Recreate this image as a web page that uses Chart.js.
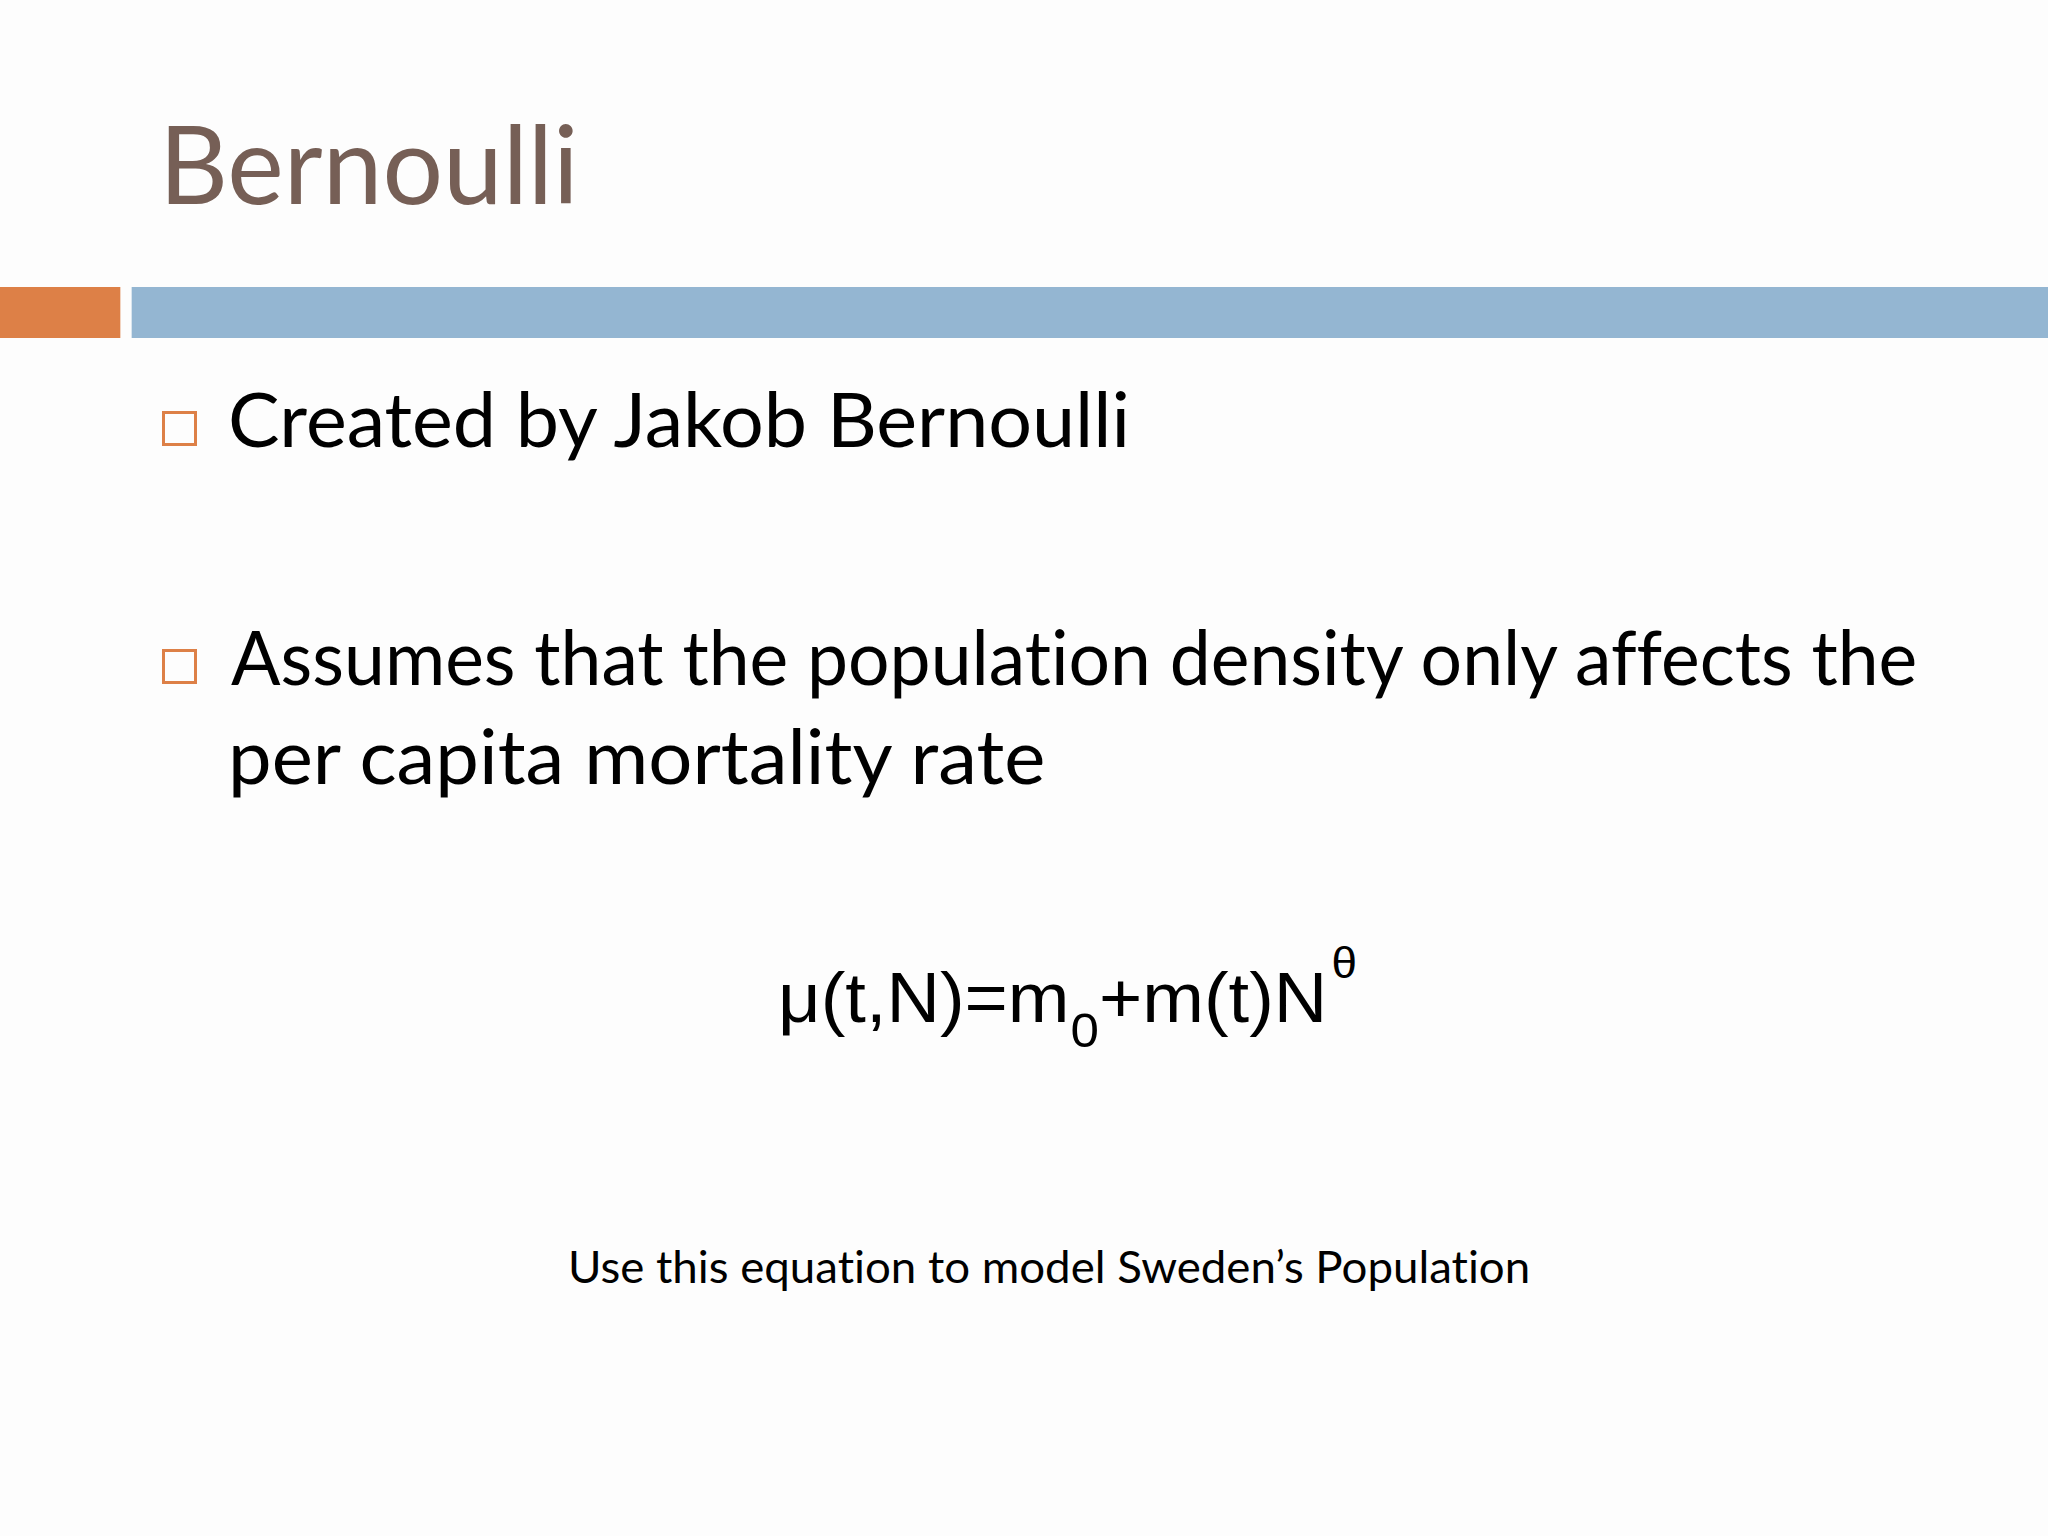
<!DOCTYPE html>
<html>
<head>
<meta charset="utf-8">
<script src="https://cdn.jsdelivr.net/npm/chart.js@4.4.1/dist/chart.umd.min.js"></script>
<style>
  html, body { margin: 0; padding: 0; background: #fdfdfd; }
  #slide { position: relative; width: 2048px; height: 1536px; overflow: hidden; background: #fdfdfd; }
  .txt { position: absolute; white-space: nowrap; line-height: 1; transform-origin: left top; }
  .bl { display: inline-block; width: 0; height: 0; vertical-align: baseline; }
  .box { position: absolute; width: 35px; height: 35px; box-sizing: border-box; border: 3px solid #dd8047; }
  #band { position: absolute; left: 0; top: 287px; }
  .eq { font-family: "Liberation Sans", Arial, sans-serif; color: #000; }
</style>
</head>
<body>
<div id="slide">
  <canvas id="band" width="2048" height="51"></canvas>
  <div class="box" style="left:162px;top:411px"></div>
  <div class="box" style="left:162px;top:649px"></div>
  <div id="texts"></div>
</div>
<script>
// slide text, one entry per line
const titleText = 'Bernoulli';
const bulletLines = [
  'Created by Jakob Bernoulli',
  'Assumes that the population density only affects the',
  'per capita mortality rate'
];
const noteText = 'Use this equation to model Sweden\u2019s Population';

// equation pieces: [text, role]
const eqParts = [['\u03bc(t,N)=m', 'base'], ['0', 'sub'], ['+m(t)N', 'base'], ['\u03b8', 'sup']];

// header band: accent block and rule, in slide px along the x axis
const bandNames = ['accent', 'rule'];
const bandSpans = [[0, 120], [132, 2048]];
const bandColors = ['#dd8047', '#94b6d2'];

new Chart(document.getElementById('band'), {
  type: 'bar',
  data: {
    labels: ['band'],
    datasets: bandNames.map((n, i) => ({
      label: n,
      data: [bandSpans[i]],
      backgroundColor: bandColors[i],
      borderWidth: 0,
      borderSkipped: false,
      grouped: false,
      barPercentage: 1,
      categoryPercentage: 1
    }))
  },
  options: {
    indexAxis: 'y',
    responsive: false,
    animation: false,
    devicePixelRatio: 1,
    layout: { padding: 0 },
    plugins: { legend: { display: false }, tooltip: { enabled: false } },
    scales: {
      x: { display: false, min: 0, max: 2048 },
      y: { display: false }
    }
  }
});

const holder = document.getElementById('texts');
const mctx = document.createElement('canvas').getContext('2d');

function addLine(text, font, size, color, left, baseline, right) {
  const el = document.createElement('div');
  el.className = 'txt';
  el.style.font = size + 'px ' + font;
  el.style.fontVariantLigatures = 'none';
  el.style.color = color;
  el.textContent = text;
  const mk = document.createElement('span');
  mk.className = 'bl';
  el.appendChild(mk);
  holder.appendChild(el);
  // ink extents from canvas so the box matches the glyphs, not the advance
  mctx.font = size + 'px ' + font;
  const m = mctx.measureText(text);
  const ink = m.actualBoundingBoxLeft + m.actualBoundingBoxRight;
  const sx = (right - left) / ink;
  el.style.left = (left + m.actualBoundingBoxLeft * sx) + 'px';
  el.style.top = (baseline - mk.offsetTop) + 'px';
  el.style.transform = 'scaleX(' + sx + ')';
}

function addEquation(left, baseline, right) {
  const el = document.createElement('div');
  el.className = 'txt eq';
  el.style.fontSize = '71px';
  eqParts.forEach(p => {
    const s = document.createElement('span');
    s.textContent = p[0];
    if (p[1] === 'sub') { s.style.fontSize = '49px'; s.style.verticalAlign = '-25px'; s.style.marginLeft = '1px'; }
    if (p[1] === 'sup') { s.style.fontSize = '44px'; s.style.verticalAlign = '44px'; s.style.marginLeft = '4px'; }
    el.appendChild(s);
  });
  const mk = document.createElement('span');
  mk.className = 'bl';
  el.appendChild(mk);
  holder.appendChild(el);
  const w = el.getBoundingClientRect().width;
  const sx = (right - left) / w;
  el.style.left = left + 'px';
  el.style.top = (baseline - mk.offsetTop) + 'px';
  el.style.transform = 'scaleX(' + sx + ')';
}

function layout() {
  const body = 'Lato, "Noto Sans", sans-serif';
  addLine(titleText, body, 108, '#765f56', 168, 204, 573);
  addLine(bulletLines[0], body, 75, '#000', 231, 447, 1130);
  addLine(bulletLines[1], body, 75, '#000', 231, 685, 1917);
  addLine(bulletLines[2], body, 75, '#000', 233, 784, 1046);
  addEquation(778, 1022, 1357);
  addLine(noteText, body, 44, '#000', 571, 1283, 1529);
}

document.fonts.ready.then(layout);
</script>
</body>
</html>
